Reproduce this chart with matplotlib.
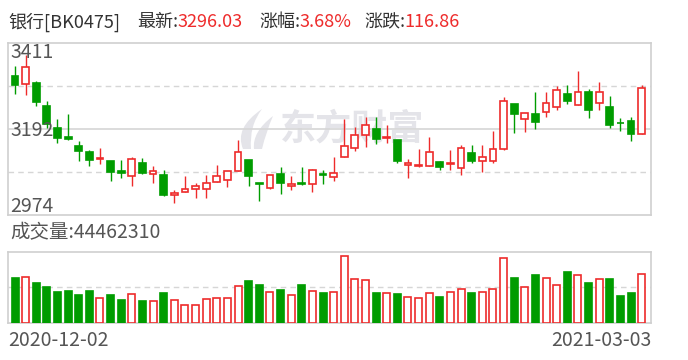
import matplotlib
matplotlib.use("Agg")
import matplotlib.pyplot as plt
from matplotlib.path import Path
from matplotlib.patches import PathPatch

plt.rcParams['font.family'] = ['Noto Sans CJK SC', 'DejaVu Sans']

# daily candles, 2020-12-02 .. 2021-03-03 (60 trading days)
opens = [3328.3, 3308.1, 3308.9, 3250.7, 3195.0, 3171.4, 3149.5, 3134.3, 3117.4, 3111.5,
         3086.2, 3072.7, 3106.5, 3077.8, 3076.1, 3023.8, 3032.2, 3039.8, 3039.8, 3057.5,
         3063.4, 3085.4, 3114.1, 3055.0, 3042.4, 3077.8, 3047.4, 3055.9, 3052.5, 3077.8,
         3070.2, 3120.8, 3143.6, 3176.5, 3191.7, 3170.6, 3164.7, 3100.6, 3099.7, 3098.0,
         3108.2, 3104.8, 3093.0, 3131.8, 3110.7, 3110.7, 3142.7, 3255.8, 3217.0, 3230.5,
         3234.7, 3247.3, 3280.2, 3252.4, 3286.2, 3257.5, 3248.2, 3208.5, 3212.8, 3179.17]
highs = [3352.0, 3380.6, 3314.0, 3262.5, 3217.0, 3230.5, 3162.1, 3138.5, 3144.4, 3111.5,
         3114.9, 3122.5, 3119.1, 3098.0, 3089.6, 3037.3, 3072.7, 3055.9, 3075.3, 3101.4,
         3085.4, 3164.7, 3114.1, 3055.9, 3075.3, 3096.3, 3073.6, 3096.3, 3090.4, 3088.8,
         3121.7, 3217.0, 3197.6, 3222.9, 3222.9, 3201.8, 3164.7, 3115.7, 3141.9, 3172.3,
         3111.5, 3140.2, 3152.0, 3152.0, 3152.0, 3187.5, 3273.5, 3255.8, 3232.2, 3286.2,
         3286.2, 3301.3, 3303.9, 3339.3, 3293.7, 3311.5, 3276.0, 3220.4, 3222.9, 3303.9]
lows = [3281.9, 3279.4, 3249.9, 3195.0, 3157.9, 3165.5, 3112.4, 3099.7, 3103.9, 3060.1,
        3068.5, 3048.3, 3076.9, 3054.2, 3021.3, 3005.2, 3032.2, 3016.2, 3016.2, 3057.5,
        3044.0, 3085.4, 3046.6, 3008.6, 3039.8, 3026.3, 3036.4, 3049.9, 3031.4, 3051.6,
        3060.1, 3120.8, 3137.7, 3147.8, 3155.4, 3156.2, 3107.3, 3067.7, 3094.7, 3098.0,
        3087.1, 3089.6, 3074.4, 3107.3, 3082.0, 3107.3, 3140.2, 3183.2, 3185.8, 3193.4,
        3223.7, 3241.4, 3255.8, 3252.4, 3221.2, 3241.4, 3195.0, 3188.3, 3163.0, 3179.0]
closes = [3304.7, 3349.4, 3261.7, 3206.0, 3170.6, 3168.1, 3137.7, 3113.2, 3118.3, 3084.5,
          3080.3, 3117.4, 3079.5, 3085.4, 3023.8, 3029.7, 3040.7, 3048.3, 3055.0, 3072.7,
          3085.4, 3133.5, 3071.9, 3051.6, 3075.3, 3054.2, 3052.5, 3053.3, 3088.8, 3074.4,
          3081.2, 3149.5, 3176.5, 3201.8, 3166.4, 3171.4, 3112.4, 3105.6, 3100.6, 3134.3,
          3094.7, 3105.6, 3143.6, 3112.4, 3120.8, 3141.1, 3262.5, 3231.3, 3232.2, 3211.1,
          3257.5, 3290.4, 3264.2, 3285.3, 3241.4, 3285.3, 3203.5, 3206.9, 3180.7, 3296.03]
# volume in millions of shares
volumes = [41.1, 41.7, 36.6, 33.0, 28.4, 29.3, 25.7, 29.3, 22.7, 25.7,
           21.2, 26.3, 20.3, 20.0, 27.5, 20.9, 16.3, 16.3, 21.8, 22.7,
           22.7, 33.6, 38.4, 34.8, 28.1, 30.2, 25.4, 34.8, 29.0, 27.5,
           28.1, 61.1, 39.9, 39.0, 27.5, 27.2, 26.6, 23.9, 23.0, 27.2,
           23.9, 28.1, 30.9, 27.5, 28.1, 30.9, 59.0, 41.1, 32.7, 43.9,
           40.8, 34.5, 46.6, 43.6, 36.6, 39.9, 40.2, 24.5, 27.5, 44.46]

price_top, price_bottom = 3411, 2974
first_date, last_date = "2020-12-02", "2021-03-03"

RED = '#ee2b2b'
GREEN = '#009c00'
GRID = '#d6d6d6'
EDGE = '#cfcfcf'
LABEL = '#555555'
WM = '#e4e4e9'

W, H = 688, 360
fig = plt.figure(figsize=(W / 100, H / 100), dpi=100)


def fx(px):
    return px / W


def fy(py):
    return 1 - py / H


ax = fig.add_axes([fx(8), fy(215), fx(643), 172 / H])
axv = fig.add_axes([fx(8), fy(323), fx(643), 71.3 / H])

n = len(closes)
x = list(range(n))
up = [closes[i] >= opens[i] for i in x]
colors = [RED if u else GREEN for u in up]
faces = ['white' if u else GREEN for u in up]

# watermark (behind the candles)
ax.text(fx(280), fy(129), "东方财富", fontsize=26, fontweight='bold', color=WM,
        va='center', ha='left', transform=fig.transFigure, zorder=0.5)
logo = [
    [(243, 149), (234, 128), (262, 109), (262, 109), (249, 126), (251, 149), (243, 149)],
    [(254, 149), (252, 132), (273, 116), (273, 116), (266, 132), (262, 149), (254, 149)],
]
for pts in logo:
    verts = [(fx(a), fy(b)) for a, b in pts]
    codes = [Path.MOVETO, Path.CURVE3, Path.CURVE3, Path.LINETO, Path.CURVE3, Path.CURVE3,
             Path.CLOSEPOLY]
    ax.add_patch(PathPatch(Path(verts, codes), facecolor=WM, edgecolor='none',
                           transform=fig.transFigure, zorder=0.5))

# candles
ax.vlines(x, lows, highs, colors=colors, linewidth=1.0, zorder=2)
bottoms = [min(opens[i], closes[i]) for i in x]
heights = [abs(closes[i] - opens[i]) for i in x]
ax.bar(x, heights, bottom=bottoms, width=0.64, color=faces, edgecolor=colors,
       linewidth=1.2, zorder=3)

mid = (price_top + price_bottom) / 2
q = (price_top - price_bottom) / 4
ax.axhline(mid, color=GRID, linewidth=1.2, zorder=1)
for v in (mid + q, mid - q):
    ax.axhline(v, color=GRID, linewidth=1.0, linestyle=(0, (4, 3)), zorder=1)
ax.set_ylim(price_bottom, price_top)
ax.set_xlim(-0.66, n - 1 + 0.88)

# volume
axv.bar(x, volumes, width=0.66, color=faces, edgecolor=colors, linewidth=1.2, zorder=3)
axv.axhline(32.5, color=GRID, linewidth=1.0, linestyle=(0, (4, 3)), zorder=1)
axv.set_ylim(0, 65)
axv.set_xlim(-0.66, n - 1 + 0.88)

for a in (ax, axv):
    a.set_xticks([])
    a.set_yticks([])
    for s in a.spines.values():
        s.set_color(EDGE)
        s.set_linewidth(1.2)

# header
hdr = [(8, "银行[BK0475]", '#333333'), (137, "最新:", '#333333'),
       (177, "3296.03", RED), (259, "涨幅:", '#333333'),
       (299, "3.68%", RED), (364, "涨跌:", '#333333'), (404, "116.86", RED)]
for px, s, c in hdr:
    fig.text(fx(px), fy(22), s, fontsize=13, color=c, va='center', ha='left')

# price labels
fig.text(fx(10), fy(52), str(price_top), fontsize=14, color=LABEL, va='center')
fig.text(fx(10), fy(131), str(round(mid)), fontsize=14, color=LABEL, va='center')
fig.text(fx(10), fy(207), str(price_bottom), fontsize=14, color=LABEL, va='center')

fig.text(fx(10), fy(233), "成交量:44462310", fontsize=14, color=LABEL, va='center')
fig.text(fx(8), fy(341), first_date, fontsize=14, color=LABEL, va='center')
fig.text(fx(651), fy(341), last_date, fontsize=14, color=LABEL, va='center', ha='right')

fig.savefig("out.png", dpi=100)
